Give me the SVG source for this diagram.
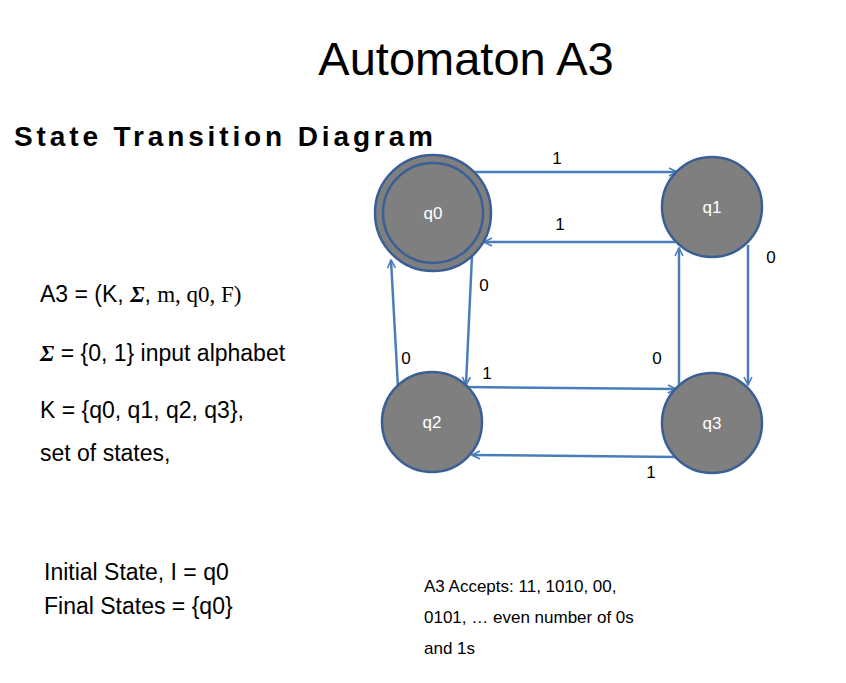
<svg xmlns="http://www.w3.org/2000/svg" width="846" height="683" viewBox="0 0 846 683">
<defs>
<marker id="ah" viewBox="0 0 10 10" refX="9" refY="5" markerWidth="10" markerHeight="10" markerUnits="userSpaceOnUse" orient="auto"><path d="M1,1 L9,5 L1,9" fill="none" stroke="#4a7ebb" stroke-width="1.6"/></marker>
<style>
.st{fill:#7f7f7f;stroke:#3a5f95;stroke-width:2.5}
.sl{fill:#fff;font-family:"Liberation Sans",sans-serif;font-size:17px;text-anchor:middle}
.e{stroke:#4a7ebb;stroke-width:2.5;fill:none;marker-end:url(#ah)}
.el{font-family:"Liberation Sans",sans-serif;font-size:17px;fill:#000;text-anchor:middle}
.t{font-family:"Liberation Sans",sans-serif;fill:#000}
</style>
</defs>
<rect width="846" height="683" fill="#fff"/>
<text class="t" x="466" y="75" font-size="47" text-anchor="middle">Automaton A3</text>
<text class="t" x="14" y="146" font-size="28" font-weight="bold" textLength="419">State Transition Diagram</text>
<text class="t" x="40" y="302" font-size="23">A3 = (K, <tspan font-family="Liberation Serif" font-weight="bold" font-style="italic">Σ</tspan>, <tspan font-family="Liberation Serif">m, q0, F)</tspan></text>
<text class="t" x="40" y="361" font-size="23"><tspan font-family="Liberation Serif" font-weight="bold" font-style="italic">Σ</tspan> = {0, 1} input alphabet</text>
<text class="t" x="40" y="418" font-size="23">K = {q0, q1, q2, q3},</text>
<text class="t" x="40" y="461" font-size="23">set of states,</text>
<text class="t" x="44" y="580" font-size="23">Initial State, I = q0</text>
<text class="t" x="44" y="614" font-size="23">Final States = {q0}</text>
<text class="t" x="424" y="592" font-size="17">A3 Accepts: 11, 1010,  00,</text>
<text class="t" x="424" y="623" font-size="17">0101, … even number of 0s</text>
<text class="t" x="424" y="654" font-size="17">and 1s</text>
<g id="edges">
<line class="e" x1="475" y1="172" x2="677" y2="172"/>
<line class="e" x1="675" y1="242" x2="484" y2="242"/>
<line class="e" x1="748" y1="245" x2="748" y2="385"/>
<line class="e" x1="679" y1="385" x2="679" y2="248"/>
<line class="e" x1="472" y1="255" x2="466" y2="385"/>
<line class="e" x1="398" y1="388" x2="391" y2="260"/>
<line class="e" x1="466" y1="387" x2="676" y2="389"/>
<line class="e" x1="676" y1="457" x2="472" y2="455"/>
<text class="el" x="557" y="164">1</text>
<text class="el" x="560" y="230">1</text>
<text class="el" x="771" y="263">0</text>
<text class="el" x="657" y="364">0</text>
<text class="el" x="484" y="291">0</text>
<text class="el" x="406" y="364">0</text>
<text class="el" x="487" y="379">1</text>
<text class="el" x="651" y="478">1</text>
</g>
<g id="q0"><circle class="st" cx="433" cy="213" r="58"/><circle class="st" cx="433" cy="213" r="50"/><text class="sl" x="433" y="219">q0</text></g>
<g id="q1"><circle class="st" cx="712" cy="207" r="50"/><text class="sl" x="712" y="213">q1</text></g>
<g id="q2"><circle class="st" cx="432" cy="422" r="50"/><text class="sl" x="432" y="428">q2</text></g>
<g id="q3"><circle class="st" cx="712" cy="423" r="50"/><text class="sl" x="712" y="429">q3</text></g>
</svg>
